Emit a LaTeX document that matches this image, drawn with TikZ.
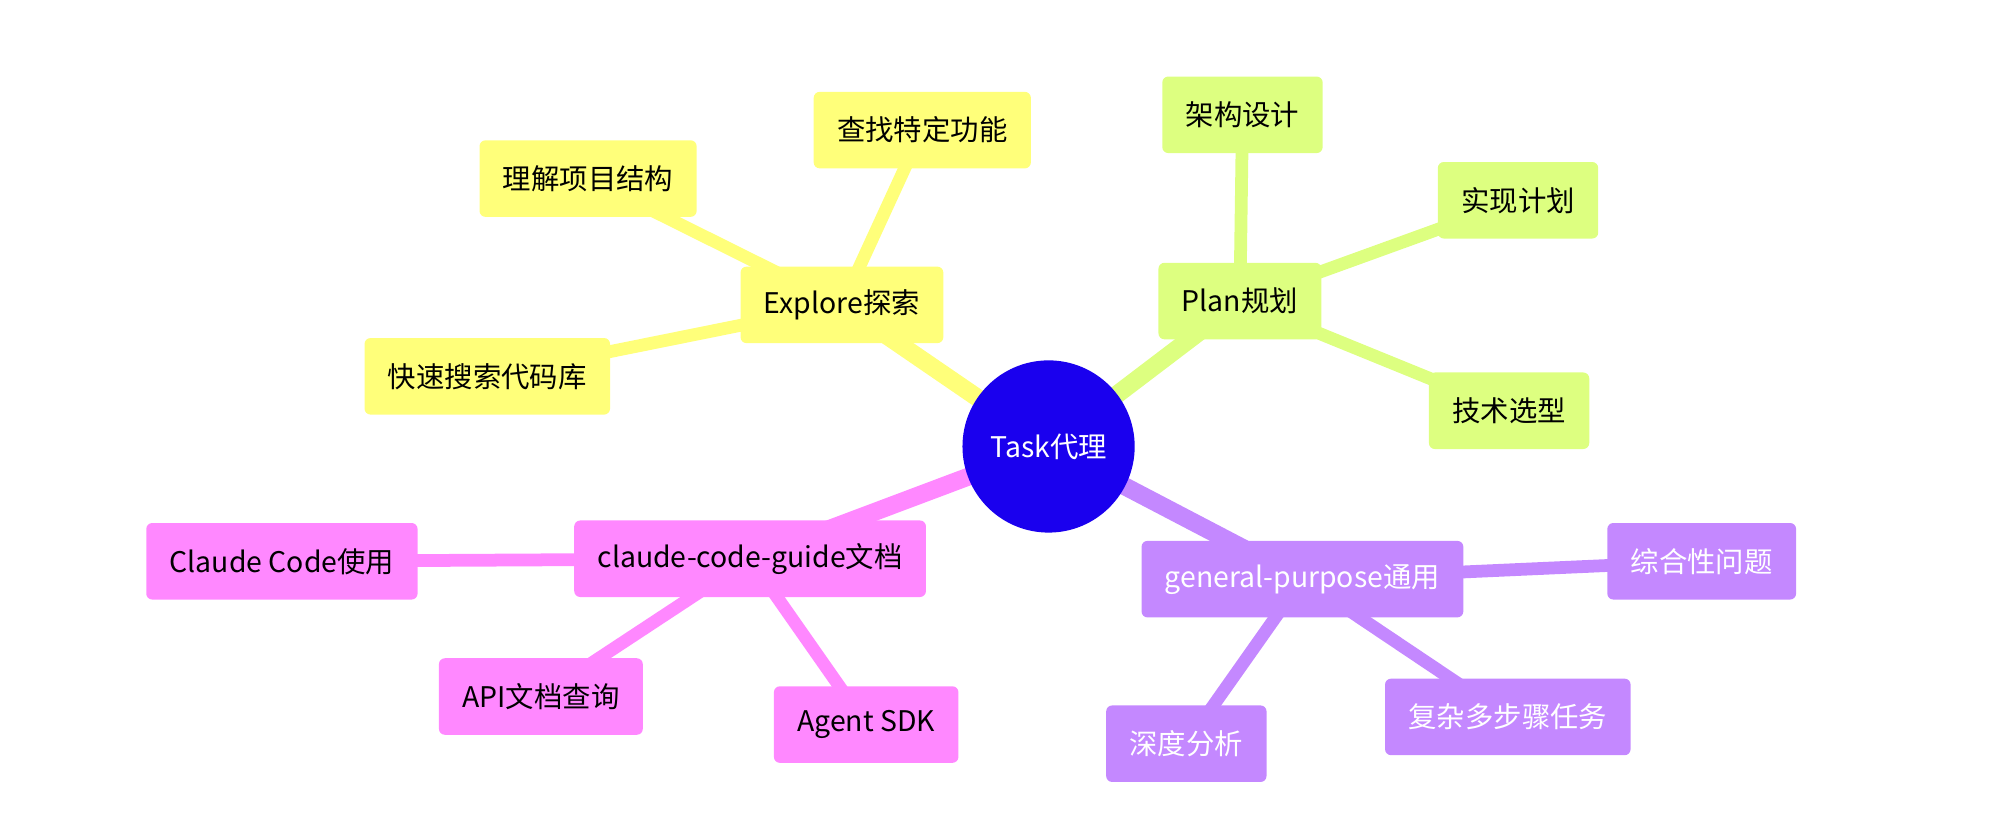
\documentclass[tikz,border=0pt]{standalone}
\usepackage{fontspec}
\setmainfont{Noto Sans CJK SC}
\begin{document}
\begin{tikzpicture}[x=0.03cm,y=-0.03cm,
  base/.style={font=\fontsize{19}{22}\selectfont, minimum height=1.8cm, inner xsep=0.55cm, rounded corners=4pt},
  ybox/.style={base, fill=yel, append after command={[draw=ystr, line width=0.12cm, sharp corners] (\tikzlastnode.south west) -- (\tikzlastnode.south east)}},
  gbox/.style={base, fill=grn, append after command={[draw=gstr, line width=0.12cm, sharp corners] (\tikzlastnode.south west) -- (\tikzlastnode.south east)}},
  pbox/.style={base, fill=pnk, append after command={[draw=pstr, line width=0.12cm, sharp corners] (\tikzlastnode.south west) -- (\tikzlastnode.south east)}},
  vbox/.style={base, fill=vio, text=white, append after command={[draw=pstr, line width=0.12cm, sharp corners] (\tikzlastnode.south west) -- (\tikzlastnode.south east)}},
  main/.style={line width=0.42cm},
  leaf/.style={line width=0.3cm}]
\definecolor{yel}{HTML}{FFFF7A}
\definecolor{ystr}{HTML}{AAAAFF}
\definecolor{grn}{HTML}{DDFF80}
\definecolor{gstr}{HTML}{D8C0F8}
\definecolor{pnk}{HTML}{FF88FF}
\definecolor{pstr}{HTML}{C8FFC8}
\definecolor{vio}{HTML}{C488FF}
\definecolor{root}{HTML}{1A00EE}
\useasboundingbox (0,0) rectangle (1560,641);
\coordinate (cr) at (822,350);
\coordinate (ce) at (660,239);
\coordinate (cp) at (972,236);
\coordinate (cc) at (588,438);
\coordinate (cg) at (1021,454);
% edges
\draw[main,yel] (cr) -- (ce);
\draw[main,grn] (cr) -- (cp);
\draw[main,pnk] (cr) -- (cc);
\draw[main,vio] (cr) -- (cg);
\draw[leaf,yel] (ce) -- (461,140) coordinate (c1);
\draw[leaf,yel] (ce) -- (723,102) coordinate (c2);
\draw[leaf,yel] (ce) -- (382,295) coordinate (c3);
\draw[leaf,grn] (cp) -- (974,90) coordinate (c4);
\draw[leaf,grn] (cp) -- (1190,157) coordinate (c5);
\draw[leaf,grn] (cp) -- (1183,322) coordinate (c6);
\draw[leaf,pnk] (cc) -- (221,440) coordinate (c7);
\draw[leaf,pnk] (cc) -- (424,546) coordinate (c8);
\draw[leaf,pnk] (cc) -- (679,568) coordinate (c9);
\draw[leaf,vio] (cg) -- (1334,440) coordinate (c10);
\draw[leaf,vio] (cg) -- (930,583) coordinate (c11);
\draw[leaf,vio] (cg) -- (1182,562) coordinate (c12);
% nodes
\node[circle, fill=root, text=white, minimum size=4.05cm, inner sep=0pt, font=\fontsize{19}{22}\selectfont] (r) at (cr) {Task代理};
\node[ybox] (e) at (ce) {Explore探索};
\node[ybox] (e1) at (c1) {理解项目结构};
\node[ybox] (e2) at (c2) {查找特定功能};
\node[ybox] (e3) at (c3) {快速搜索代码库};
\node[gbox] (p) at (cp) {Plan规划};
\node[gbox] (p1) at (c4) {架构设计};
\node[gbox] (p2) at (c5) {实现计划};
\node[gbox] (p3) at (c6) {技术选型};
\node[pbox] (c) at (cc) {claude-code-guide文档};
\node[pbox] (k1) at (c7) {Claude Code使用};
\node[pbox] (k2) at (c8) {API文档查询};
\node[pbox] (k3) at (c9) {Agent SDK};
\node[vbox] (g) at (cg) {general-purpose通用};
\node[vbox] (g1) at (c10) {综合性问题};
\node[vbox] (g2) at (c11) {深度分析};
\node[vbox] (g3) at (c12) {复杂多步骤任务};
\end{tikzpicture}
\end{document}
